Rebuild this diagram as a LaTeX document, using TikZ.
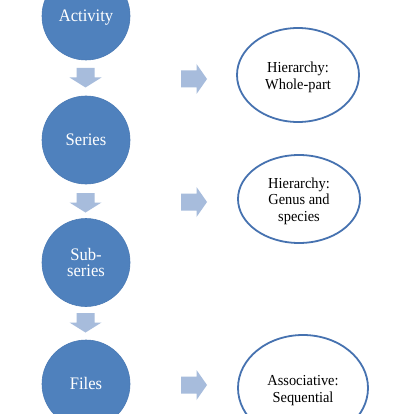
\documentclass[tikz,border=0pt]{standalone}
\usepackage{fontspec}
\setmainfont{Liberation Serif}
\usetikzlibrary{shapes.geometric}
\definecolor{circblue}{HTML}{4F81BD}
\definecolor{circedge}{HTML}{4A7AB5}
\definecolor{arrblue}{HTML}{A7BCDC}
\definecolor{ellblue}{HTML}{4672B0}
\newcommand{\tallt}[1]{\raisebox{-2.4pt}[\height][\depth]{\scalebox{1}[1.06]{\begin{tabular}{@{}c@{}}#1\end{tabular}}}}
\begin{document}
\begin{tikzpicture}[x=1pt,y=-1pt,
  level/.style={circle, fill=circblue, draw=circedge, line width=0.6pt,
    minimum size=88pt, inner sep=0pt, text=white, align=center,
    font=\fontsize{16.6}{15.8}\selectfont},
  relation/.style={ellipse, draw=ellblue, line width=1.8pt, fill=white,
    inner sep=0pt, align=center, text=black,
    font=\fontsize{14.4}{15.8}\selectfont},
  flowarrow/.style={fill=arrblue}]
\useasboundingbox (0,0) rectangle (414,414);
\fill[white] (0,0) rectangle (414,414);

% circles
\node[level] (activity) at (86,16) {\tallt{Activity}};
\node[level] (series) at (86,140) {\tallt{Series}};
\node[level] (subseries) at (86,262.5) {\tallt{Sub-\\series}};
\node[level] (files) at (86,384) {\tallt{Files}};

% ellipses
\node[relation, minimum width=122pt, minimum height=94pt] (whole) at (298,75) {\tallt{Hierarchy:\\Whole-part}};
\node[relation, minimum width=122pt, minimum height=88pt] (genus) at (299,199) {\tallt{Hierarchy:\\Genus and\\species}};
\node[relation, minimum width=130pt, minimum height=106pt] (assoc) at (303,388) {\tallt{Associative:\\Sequential}};

% down arrows
\foreach \t in {68,193,313}{
  \fill[flowarrow] (76.5,\t) -- (94.5,\t) -- (94.5,\t+9.5) -- (101.5,\t+9.5)
    -- (85.5,\t+19.5) -- (69.5,\t+9.5) -- (76.5,\t+9.5) -- cycle;
}
% right arrows
\foreach \c in {79,202,385}{
  \fill[flowarrow] (181,\c-8.5) -- (196.5,\c-8.5) -- (196.5,\c-15) -- (207,\c)
    -- (196.5,\c+15) -- (196.5,\c+8.5) -- (181,\c+8.5) -- cycle;
}
\end{tikzpicture}
\end{document}
